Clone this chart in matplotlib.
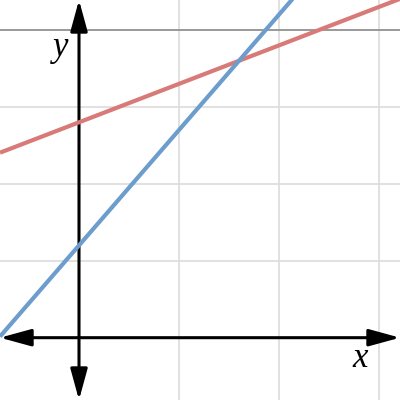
import numpy as np
import matplotlib.pyplot as plt

# data: two lines y = m*x + b, plus a horizontal line
x_range = [-0.79, 3.21]
y_range = [-0.81, 4.39]
red_slope, red_icpt = 0.5, 2.8
blue_slope, blue_icpt = 1.5, 1.2
hline_y = 4
grid_x = [1, 2, 3]
grid_y = [1, 2, 3]

fig = plt.figure(figsize=(4, 4), dpi=100)
ax = fig.add_axes([0, 0, 1, 1])
ax.set_xlim(x_range)
ax.set_ylim(y_range)
ax.axis('off')

for gx in grid_x:
    ax.axvline(gx, color='#dcdcdc', lw=1.2, zorder=0)
for gy in grid_y:
    ax.axhline(gy, color='#dcdcdc', lw=1.2, zorder=0)
ax.axhline(hline_y, color='#999999', lw=1.4, zorder=1)

# axes with arrow heads
arr = dict(arrowstyle='-|>,head_length=1.9,head_width=0.52', color='black', lw=2.2,
           shrinkA=0, shrinkB=0)
ax.annotate('', xy=(x_range[1], 0), xytext=(0, 0), arrowprops=arr, zorder=3)
ax.annotate('', xy=(x_range[0], 0), xytext=(0, 0), arrowprops=arr, zorder=3)
ax.annotate('', xy=(0, y_range[1]), xytext=(0, 0), arrowprops=arr, zorder=3)
ax.annotate('', xy=(0, y_range[0]), xytext=(0, 0), arrowprops=arr, zorder=3)

xs = np.array(x_range)
ax.plot(xs, red_slope * xs + red_icpt, color='#d87b78', lw=3, zorder=4,
        solid_capstyle='butt')
ax.plot(xs, blue_slope * xs + blue_icpt, color='#6c9dcc', lw=3, zorder=5,
        solid_capstyle='butt')

ax.text(2.81, -0.27, 'x', fontsize=25, family='Liberation Serif', style='italic',
        ha='center', va='center')
ax.text(-0.18, 3.77, 'y', fontsize=25, family='Liberation Serif', style='italic',
        ha='center', va='center')

fig.savefig('out.png', dpi=100)
